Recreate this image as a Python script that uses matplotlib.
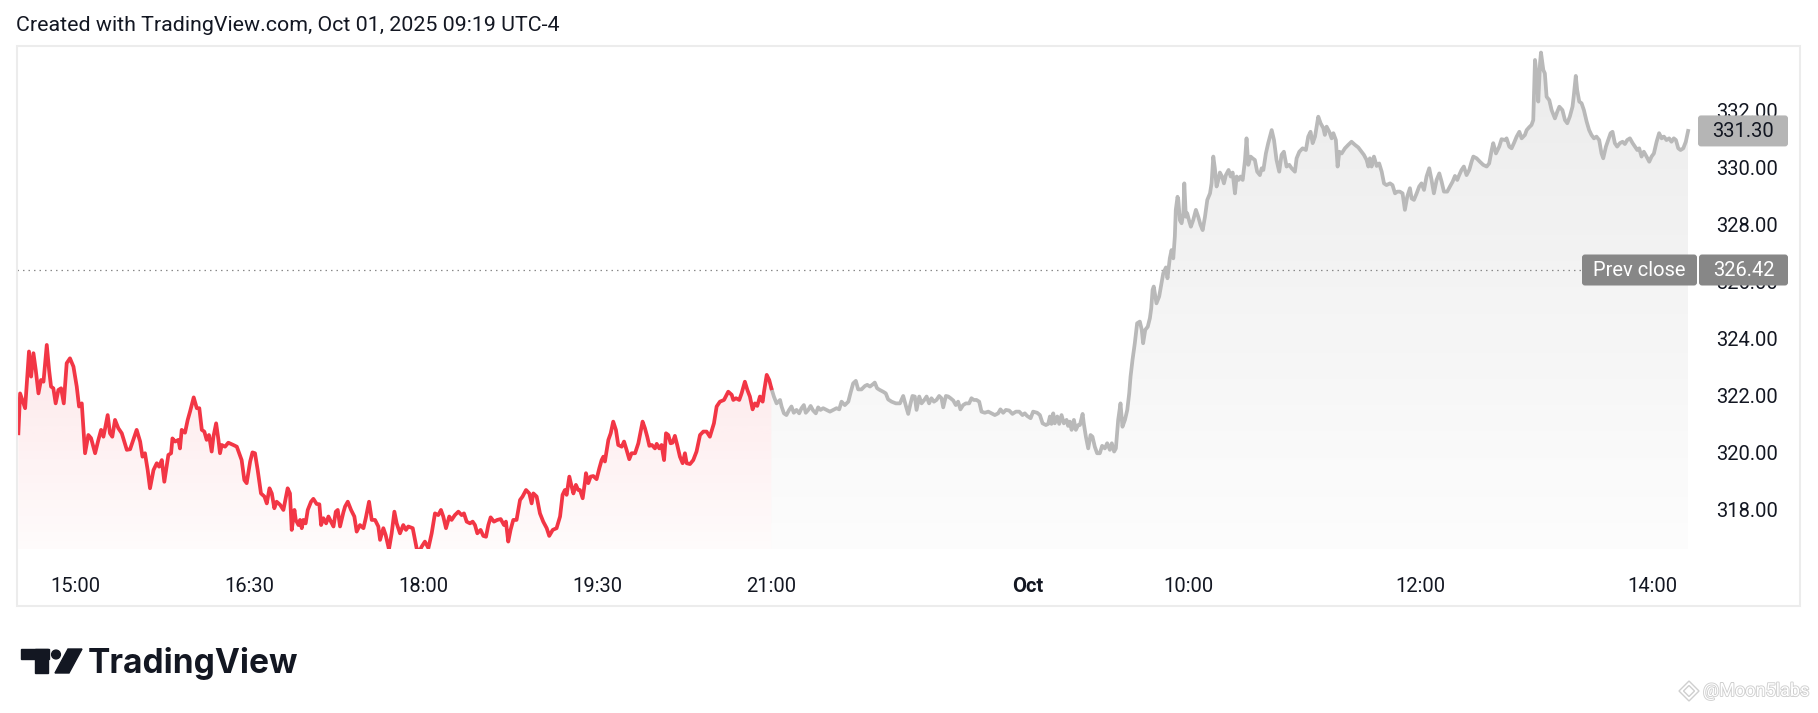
import numpy as np
import matplotlib
matplotlib.use("Agg")
import matplotlib.pyplot as plt
from matplotlib.transforms import Affine2D
from matplotlib.patches import FancyBboxPatch, Rectangle, Circle, Polygon
import matplotlib.patheffects as pe

# ---------------- data (x = minutes on the chart's compressed bar axis, from 14:30) -------------
red_points = [
(0.7,320.69),(1.6,322.09),(4.2,321.57),(6.2,323.56),(7.3,322.68),(8.5,323.50),(9.7,322.91),(11.1,322.09),
(12.4,322.56),(13.7,322.50),(15.4,323.79),(16.6,322.91),(17.6,322.33),(18.8,322.27),(20.0,321.74),(21.4,322.21),
(22.8,322.27),(24.2,321.74),(25.7,323.15),(27.4,323.32),(29.2,323.03),(30.9,322.33),(32.1,321.63),(33.5,321.74),
(35.2,319.99),(36.9,320.63),(38.3,320.52),(40.4,319.99),(42.1,320.46),(43.5,320.81),(44.7,320.57),(45.6,320.87),
(46.9,321.33),(48.1,320.69),(49.3,320.57),(50.7,321.16),(52.4,320.87),(54.2,320.69),(56.8,320.11),(58.5,320.13),
(60.7,320.57),(61.9,320.81),(63.7,320.40),(64.9,319.87),(66.2,319.99),(67.6,319.40),(68.8,318.76),(70.6,319.40),
(72.3,319.64),(73.5,319.52),(74.9,319.75),(76.2,318.99),(78.3,319.93),(79.7,319.99),(80.4,320.51),(81.8,320.40),
(83.5,320.46),(84.3,320.16),(85.2,320.81),(86.9,320.71),(88.3,321.16),(89.5,321.45),(91.4,321.95),(93.0,321.57),
(94.3,321.57),(95.6,320.81),(96.9,320.75),(98.1,320.46),(99.3,320.63),(100.7,320.05),(101.6,320.57),(103.0,321.04),
(104.2,320.46),(105.0,319.99),(105.9,320.28),(107.6,320.22),(109.3,320.36),(111.9,320.28),(113.7,320.22),(116.2,319.75),
(117.6,319.05),(118.8,318.94),(120.6,319.70),(121.8,320.02),(123.1,319.99),(124.5,319.40),(126.2,318.58),(128.0,318.47),
(129.2,318.23),(130.6,318.76),(131.8,318.58),(133.1,318.06),(134.3,318.29),(136.1,318.18),(137.8,318.00),(140.0,318.76),
(141.2,318.58),(142.1,317.30),(143.5,318.00),(144.2,317.65),(145.6,317.47),(146.4,317.65),(147.3,317.36),(148.1,317.65),
(149.3,317.53),(150.4,318.00),(152.1,318.29),(153.3,318.39),(155.0,318.21),(156.4,318.20),(157.3,317.47),(158.5,317.71),
(159.9,317.53),(161.1,317.77),(162.4,317.59),(163.7,317.42),(164.9,317.94),(165.9,318.00),(167.1,317.42),(168.8,317.91),
(169.7,318.12),(171.1,318.29),(172.8,318.00),(174.5,317.77),(175.7,317.24),(177.4,317.47),(179.2,317.36),(180.4,317.71),
(182.1,318.29),(183.5,317.65),(185.2,317.65),(186.9,317.42),(187.8,316.95),(189.5,317.36),(190.7,317.12),(192.4,316.62),
(193.8,317.18),(195.2,317.94),(196.4,317.53),(198.1,317.18),(199.8,317.47),(201.2,317.30),(202.4,317.42),(204.7,317.36),
(205.9,316.95),(206.7,316.66),(208.1,316.54),(209.3,316.71),(211.0,316.89),(212.8,316.66),(214.5,317.18),(216.2,317.88),
(217.9,317.82),(219.3,318.00),(220.5,317.77),(221.9,317.36),(223.6,317.77),(224.8,317.65),(226.5,317.82),(228.3,317.94),
(230.0,317.82),(231.2,317.88),(232.6,317.59),(234.3,317.53),(235.7,317.59),(236.9,317.47),(238.1,317.18),(239.8,317.30),
(241.2,317.09),(242.6,317.06),(243.8,317.47),(245.0,317.74),(246.7,317.59),(248.4,317.65),(250.2,317.68),(251.9,317.47),
(252.9,317.59),(254.1,316.89),(255.3,317.30),(256.7,317.65),(258.4,317.65),(260.2,318.35),(261.5,318.47),(263.3,318.70),
(265.0,318.58),(266.2,318.23),(267.1,318.58),(268.8,318.47),(270.5,317.88),(272.2,317.59),(274.0,317.36),(275.3,317.09),
(277.1,317.30),(279.1,317.36),(280.9,317.77),(282.2,318.53),(283.4,318.70),(284.3,318.53),(285.7,319.17),(286.9,318.82),
(287.8,318.58),(289.1,318.88),(290.3,318.70),(291.2,318.70),(292.6,318.41),(293.8,318.99),(294.3,319.29),(295.5,318.94),
(296.7,319.17),(298.1,319.19),(299.8,319.08),(301.2,319.46),(302.4,319.75),(303.3,319.87),(304.1,319.70),(305.9,320.46),
(307.1,320.69),(308.4,321.10),(309.8,320.81),(311.0,320.28),(312.8,320.22),(314.0,320.40),(315.3,320.11),(316.7,319.78),
(317.9,319.99),(319.7,319.99),(321.4,320.34),(322.6,320.75),(323.6,321.10),(324.8,320.87),(326.0,320.57),(327.1,320.25),
(328.4,320.28),(330.0,320.16),(330.9,320.32),(332.2,320.16),(333.4,320.28),(334.7,319.75),(335.7,320.69),(336.9,320.63),
(338.1,320.34),(339.1,320.36),(340.3,320.60),(341.5,320.28),(342.9,319.87),(344.3,319.64),(345.5,319.99),(346.4,319.64),
(348.1,319.61),(349.8,319.75),(351.5,320.05),(353.3,320.63),(355.0,320.75),(356.7,320.75),(358.4,320.57),(359.5,320.81),
(360.5,321.04),(361.9,321.63),(363.6,321.80),(365.7,321.86),(367.1,322.04),(367.9,322.15),(369.7,322.04),(370.5,321.86),
(371.9,321.92),(373.6,321.86),(374.8,322.09),(376.5,322.50),(377.8,322.21),(379.1,321.98),(380.5,321.53),(381.7,321.74),
(382.9,321.65),(384.3,321.98),(385.7,321.80),(386.4,322.15),(387.8,322.74),(389.1,322.56),(390.2,322.27),
]

gray_points = [
(390.2,322.27),(391.5,321.98),(392.9,321.74),(394.7,321.86),(395.5,321.63),(396.7,321.39),(398.0,321.33),(399.4,321.51),
(400.6,321.63),(401.8,321.41),(403.2,321.51),(404.6,321.39),(405.8,321.57),(407.0,321.68),(408.0,321.41),(409.3,321.51),
(410.5,321.65),(411.8,321.49),(413.2,321.39),(414.4,321.60),(415.6,321.51),(417.0,321.57),(418.7,321.51),(420.5,321.45),
(422.2,321.51),(423.9,321.57),(425.3,321.53),(426.5,321.80),(428.2,321.68),(430.0,321.80),(431.2,322.12),(432.5,322.44),
(433.9,322.53),(435.1,322.23),(436.8,322.23),(438.6,322.35),(439.8,322.39),(441.2,322.33),(442.9,322.42),(443.7,322.47),
(444.9,322.27),(446.3,322.21),(448.0,322.15),(449.4,322.09),(450.6,321.88),(452.4,321.80),(454.6,321.74),(456.7,321.74),
(458.4,322.00),(459.8,321.65),(461.0,321.37),(462.2,321.74),(463.2,322.00),(464.4,321.98),(465.3,321.51),(466.7,321.98),
(467.9,321.74),(469.1,321.84),(470.5,321.98),(471.8,321.74),(473.0,321.92),(474.3,321.80),(475.6,321.86),(477.0,322.00),
(478.2,321.92),(479.1,321.60),(480.5,322.00),(481.7,321.98),(482.9,321.92),(484.3,321.84),(485.6,321.68),(486.8,321.80),
(488.0,321.53),(489.4,321.68),(490.8,321.74),(492.5,321.74),(493.7,321.92),(494.9,321.86),(496.3,321.86),(497.7,321.80),
(498.9,321.45),(500.6,321.41),(502.4,321.45),(504.1,321.39),(505.8,321.33),(507.5,321.39),(508.7,321.53),(510.1,321.41),
(511.5,321.51),(513.2,321.49),(514.9,321.37),(516.7,321.45),(518.4,321.45),(520.1,321.33),(521.3,321.39),(522.5,321.30),
(524.3,321.22),(525.6,321.45),(527.7,321.41),(529.1,321.33),(530.5,321.04),(532.2,320.98),(533.4,321.02),(534.3,321.28),
(535.1,321.02),(536.0,321.39),(536.8,321.04),(538.1,321.28),(539.1,321.02),(540.3,321.33),(541.5,321.04),(542.9,321.16),
(543.7,320.95),(544.6,321.10),(545.5,320.81),(546.7,321.16),(547.7,320.81),(548.9,320.98),(549.8,320.98),(551.2,321.37),
(551.8,321.04),(552.9,320.57),(554.1,320.16),(555.3,320.63),(556.3,320.57),(557.5,320.22),(558.7,319.99),(560.1,319.99),
(561.3,320.25),(562.7,320.16),(563.9,320.34),(565.3,320.11),(566.3,320.34),(567.5,320.05),(568.4,320.16),(569.6,321.16),
(570.8,321.74),(571.8,320.92),(573.1,321.16),(574.3,321.51),(575.3,322.09),(576.0,322.68),(577.0,323.26),(578.2,323.85),
(579.4,324.55),(580.8,324.61),(581.8,324.32),(582.5,323.85),(583.6,324.32),(584.9,324.43),(586.0,324.73),(586.7,325.08),
(587.4,325.72),(588.0,325.84),(589.4,325.25),(590.8,325.49),(592.0,325.95),(592.9,326.30),(594.3,326.51),(595.1,326.13),
(596.3,326.83),(597.2,327.12),(598.1,326.83),(598.9,327.59),(599.4,328.53),(600.3,328.99),(600.7,328.88),(601.5,328.17),
(602.4,328.06),(603.3,328.41),(603.8,329.46),(604.6,328.29),(605.3,328.41),(606.4,328.12),(607.2,327.94),(608.4,328.17),
(609.8,328.53),(611.0,328.29),(612.2,328.00),(613.3,327.82),(614.5,328.29),(615.7,328.88),(617.1,329.11),(617.9,329.46),
(618.8,330.40),(619.6,329.99),(620.5,329.35),(621.4,329.58),(622.2,329.84),(623.3,329.70),(624.3,329.46),(625.3,329.75),
(626.7,329.93),(627.8,329.70),(628.8,329.84),(630.0,329.11),(630.9,329.70),(631.9,329.58),(632.9,329.70),(634.0,329.58),
(635.2,330.28),(636.0,331.04),(636.9,330.11),(638.1,330.40),(639.1,330.34),(640.3,330.28),(641.5,329.87),(642.9,329.75),
(643.8,329.99),(644.7,329.93),(646.0,330.51),(647.2,330.87),(649.0,331.33),(650.2,330.98),(651.5,330.28),(652.9,329.87),
(654.1,330.46),(655.3,330.57),(656.7,330.05),(658.1,330.11),(659.3,329.99),(661.0,329.87),(661.9,330.34),(663.3,330.57),
(665.0,330.69),(666.7,330.63),(667.9,331.10),(669.1,331.27),(670.2,330.87),(671.4,331.10),(673.1,331.80),(674.3,331.57),
(675.7,331.40),(676.5,331.16),(677.4,331.45),(678.8,331.27),(680.0,331.04),(680.9,331.22),(682.2,330.98),(683.1,330.05),
(684.0,330.57),(685.2,330.51),(686.9,330.69),(688.6,330.81),(690.3,330.92),(692.1,330.81),(693.8,330.72),(695.5,330.57),
(696.7,330.46),(698.1,330.28),(699.0,330.05),(699.8,330.34),(700.7,330.05),(701.9,330.40),(703.3,330.07),(704.6,330.16),
(705.9,329.87),(707.1,329.46),(708.4,329.40),(710.2,329.46),(711.5,329.40),(712.8,329.11),(714.0,329.17),(715.3,329.17),
(716.7,329.11),(717.9,328.53),(719.1,328.99),(720.5,329.29),(721.4,328.93),(722.6,328.88),(724.0,329.11),(725.3,329.35),
(726.5,329.46),(727.8,329.23),(729.1,329.70),(730.5,329.99),(731.7,329.58),(732.9,329.11),(734.3,329.58),(735.7,329.81),
(736.9,329.52),(738.1,329.17),(739.8,329.17),(741.2,329.35),(742.6,329.52),(743.8,329.72),(745.0,329.58),(746.0,329.75),
(747.2,329.93),(748.4,330.05),(749.8,329.75),(751.2,329.93),(752.4,330.22),(753.3,330.40),(755.0,330.34),(756.7,330.22),
(758.4,330.11),(760.2,330.05),(761.5,330.16),(762.8,330.63),(763.6,330.87),(765.0,330.51),(766.7,330.75),(767.9,331.01),
(769.7,330.98),(770.5,331.04),(771.9,330.75),(773.1,330.69),(774.3,330.87),(775.7,331.10),(777.1,331.27),(778.3,331.04),
(780.0,331.16),(780.9,331.33),(782.2,331.43),(783.4,331.51),(784.3,331.68),(785.2,333.79),(786.0,333.32),(786.9,332.33),
(787.8,333.67),(788.3,334.05),(789.5,333.44),(790.3,333.32),(791.2,332.50),(792.6,332.38),(793.8,332.03),(795.5,331.74),
(796.7,331.97),(797.8,332.15),(799.4,332.03),(800.7,331.68),(801.9,331.57),(803.2,331.80),(804.6,332.15),(805.3,332.56),
(806.3,333.23),(807.0,332.74),(808.1,332.33),(809.3,332.27),(810.5,332.03),(811.9,331.63),(813.2,331.33),(814.4,331.16),
(815.7,331.04),(817.0,331.10),(818.4,330.98),(819.6,330.51),(820.5,330.34),(821.9,330.75),(823.1,330.98),(824.3,331.22),
(825.3,331.27),(826.5,330.87),(827.7,330.75),(829.1,330.87),(830.5,330.92),(831.7,330.84),(832.9,330.98),(834.3,331.04),
(835.7,330.87),(836.9,330.75),(838.1,330.63),(839.1,330.69),(840.3,330.40),(841.5,330.57),(842.9,330.40),(844.3,330.22),
(845.5,330.40),(846.7,330.51),(848.1,330.92),(849.4,331.22),(850.7,331.04),(851.9,331.10),(853.2,330.98),(854.6,331.04),
(855.8,330.92),(857.0,331.04),(858.1,330.98),(859.3,330.69),(860.5,330.63),(861.9,330.69),(863.2,330.92),(864.4,331.30),
]

prev_close = 326.42
last_price = 331.30
x_tick_pos = [30, 120, 210, 300, 390, 523, 606, 726, 846]
x_tick_labels = ["15:00", "16:30", "18:00", "19:30", "21:00", "Oct", "10:00", "12:00", "14:00"]
y_ticks = [318, 320, 322, 324, 326, 328, 330, 332]
title_text = "Created with TradingView.com, Oct 01, 2025 09:19 UTC-4"

XLIM = (0, 869)
YLIM = (316.63, 334.28)

RED = "#f23645"
GRAY_LINE = "#b9b9b9"
TXT = "#131722"
FONT = "Roboto"

# ---------------- figure ----------------
W, H = 1818, 713
fig = plt.figure(figsize=(W / 100, H / 100), dpi=100, facecolor="white")
PX = Affine2D().scale(1 / W, -1 / H).translate(0, 1) + fig.transFigure

L, R, T, B = 17, 1697, 46, 549
ax = fig.add_axes([L / W, 1 - B / H, (R - L) / W, (B - T) / H])
ax.set_facecolor("none")
for s in ax.spines.values():
    s.set_visible(False)

red_t = np.array([p[0] for p in red_points]); red_v = np.array([p[1] for p in red_points])
gray_t = np.array([p[0] for p in gray_points]); gray_v = np.array([p[1] for p in gray_points])


def gradient_area(x, y, rgb, a_top, a_bot, zorder):
    poly = ax.fill_between(x, y, YLIM[0], facecolor="none", edgecolor="none")
    path = poly.get_paths()[0]
    n = 256
    img = np.zeros((n, 1, 4))
    img[..., 0], img[..., 1], img[..., 2] = rgb
    img[:, 0, 3] = np.linspace(a_top, a_bot, n)
    im = ax.imshow(img, extent=[x[0], x[-1], YLIM[0], YLIM[1]], aspect="auto",
                   origin="upper", zorder=zorder, interpolation="bilinear")
    im.set_clip_path(path, transform=ax.transData)


gradient_area(red_t, red_v, (242 / 255, 54 / 255, 69 / 255), 0.26, 0.02, 1)
gradient_area(gray_t, gray_v, (0.55, 0.55, 0.55), 0.17, 0.02, 1)

ax.plot(gray_t, gray_v, color=GRAY_LINE, lw=2.7, zorder=3, solid_joinstyle="round")
ax.plot(red_t, red_v, color=RED, lw=2.7, zorder=4, solid_joinstyle="round")

# prev close dotted line (ends at the label box)
ax.axhline(prev_close, xmin=0, xmax=(1582 - L) / (R - L), color="#8a8a8a", lw=0.9,
           ls=(0, (1.2, 3.2)), zorder=2)

ax.set_xlim(*XLIM)
ax.set_ylim(*YLIM)

ax.set_xticks(x_tick_pos)
ax.set_xticklabels(x_tick_labels)
ax.tick_params(axis="x", length=0, pad=20, labelsize=14.5, labelcolor=TXT)
for lab in ax.get_xticklabels():
    lab.set_fontfamily(FONT)
    if lab.get_text() == "Oct":
        lab.set_fontweight("bold")

ax.yaxis.tick_right()
ax.set_yticks(y_ticks)
ax.set_yticklabels([f"{v:.2f}" for v in y_ticks])
ax.tick_params(axis="y", length=0, pad=13.7, labelsize=14.5, labelcolor=TXT)
for lab in ax.get_yticklabels():
    lab.set_fontfamily(FONT)

# outer frame
fig.patches.append(Rectangle((17, 46), 1783, 560, transform=PX, fill=False,
                             edgecolor="#ececec", lw=1.5))


def ypx(v):
    return H - ax.transData.transform((0, v))[1]


def label_box(x0, w, v, face, text, tcolor):
    yc = ypx(v)
    fig.patches.append(FancyBboxPatch((x0, yc - 15.5), w, 31,
                                      boxstyle="round,pad=0,rounding_size=3",
                                      transform=PX, facecolor=face, edgecolor="none", zorder=5))
    fig.text(x0 + w / 2, yc + 1, text, transform=PX, ha="center", va="center",
             fontsize=14.5, color=tcolor, family=FONT, zorder=6)


label_box(1698, 90, last_price, "#b5b5b5", f"{last_price:.2f}", TXT)
label_box(1582, 115, prev_close, "#878787", "Prev close", "white")
label_box(1699, 89, prev_close, "#878787", f"{prev_close:.2f}", "white")

# header
title = fig.text(16, 31, title_text, transform=PX, ha="left", va="baseline",
                 fontsize=14, color=TXT, family=FONT)

# TradingView logo
k = "#131722"
fig.patches.append(Rectangle((21, 649), 28, 10, transform=PX, color=k))
fig.patches.append(Rectangle((35, 649), 13, 24, transform=PX, color=k))
fig.patches.append(Circle((56, 654.5), 4.4, transform=PX, color=k))
fig.patches.append(Polygon([(55, 673), (69, 673), (82, 649), (68, 649)], closed=True,
                           transform=PX, color=k))
logo = fig.text(88, 673, "TradingView", transform=PX, ha="left", va="baseline",
                fontsize=22, color=k, family="Inter", fontweight="bold")

# watermark
wm = fig.text(1809, 691, "@Moon5labs", transform=PX, ha="right", va="center",
              fontsize=13, color="white", family="Roboto",
              path_effects=[pe.withStroke(linewidth=1.3, foreground="#cfcfcf")])

# fit text widths
fig.canvas.draw()
rend = fig.canvas.get_renderer()
for t, target in [(title, 545), (logo, 210)]:
    bb = t.get_window_extent(rend)
    t.set_fontsize(t.get_fontsize() * target / bb.width)

fig.canvas.draw()
bb = wm.get_window_extent(rend)
wx = bb.x0 - 14
wy = H - (bb.y0 + bb.y1) / 2
for s in (10, 5.5):
    fig.patches.append(Polygon([(wx, wy - s), (wx + s, wy), (wx, wy + s), (wx - s, wy)],
                               closed=True, transform=PX, fill=False, edgecolor="#cfcfcf", lw=1))

fig.savefig("out.png", dpi=100, facecolor="white")
